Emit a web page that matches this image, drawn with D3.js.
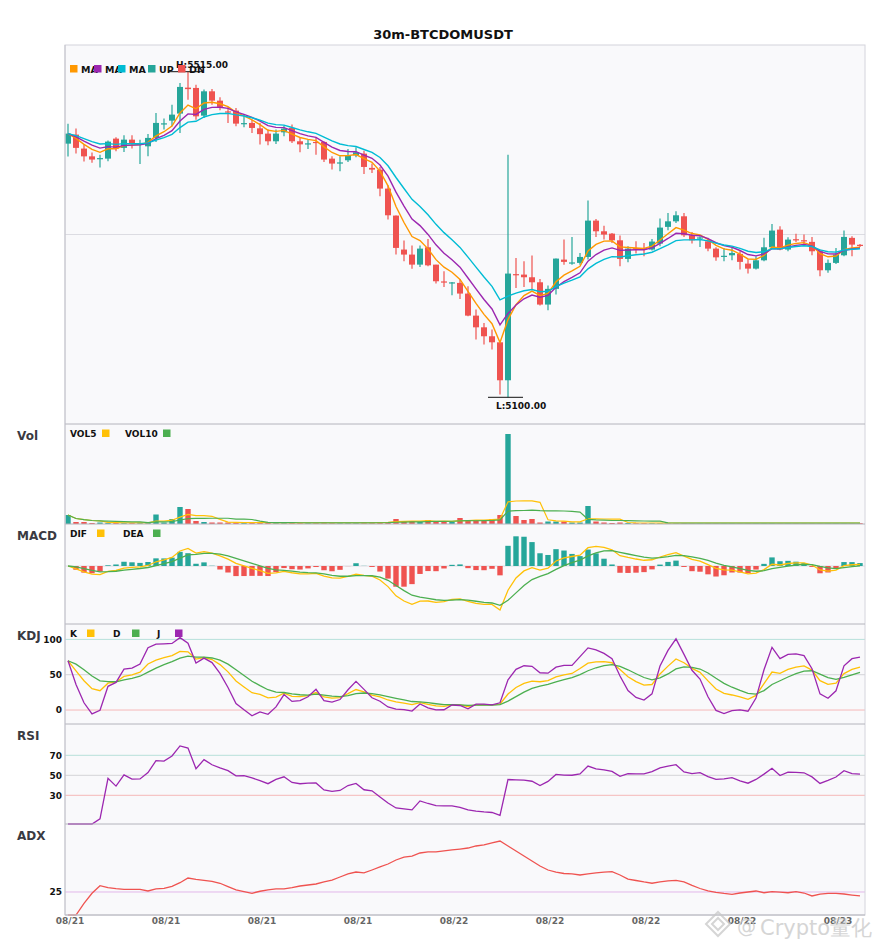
<!DOCTYPE html>
<html><head><meta charset="utf-8">
<script src="https://cdn.jsdelivr.net/npm/d3@7"></script>
<style>body{margin:0;background:#fff;} text{font-family:"DejaVu Sans",sans-serif;}</style>
</head><body><svg id="c" width="885" height="950"></svg>
<script>
const chartTitle = "30m-BTCDOMUSDT";
const openP = [5423.3,5434.8,5417.0,5407.1,5403.6,5404.2,5429.7,5417.9,5428.4,5422.1,
5419.9,5430.6,5447.9,5452.6,5461.6,5494.7,5494.3,5459.0,5490.0,5478.1,
5464.4,5465.4,5448.2,5449.7,5442.8,5436.1,5426.3,5437.7,5443.3,5426.3,
5422.4,5425.5,5425.5,5404.2,5398.1,5402.1,5408.4,5410.6,5392.4,5390.2,
5366.0,5331.6,5288.3,5281.9,5269.1,5291.2,5269.1,5247.7,5245.2,5245.8,
5232.2,5204.1,5189.2,5177.8,5170.1,5121.7,5257.0,5256.4,5253.0,5246.6,
5218.2,5238.2,5275.5,5270.7,5271.3,5278.9,5325.2,5311.6,5308.6,5300.1,
5276.4,5290.2,5289.9,5288.3,5295.9,5317.2,5324.3,5330.7,5306.5,5302.3,
5298.8,5289.5,5279.1,5281.0,5282.8,5270.4,5264.0,5274.6,5291.2,5313.7,
5288.3,5301.5,5300.2,5298.1,5286.1,5261.9,5271.3,5281.0,5303.2,5294.4];
const highP = [5448.8,5442.5,5422.1,5411.9,5409.3,5427.2,5431.4,5433.9,5433.9,5428.4,
5435.7,5462.5,5455.2,5473.0,5500.7,5515.0,5498.5,5492.2,5493.0,5482.3,
5469.6,5468.8,5461.2,5453.9,5449.7,5441.2,5441.2,5446.3,5447.6,5430.6,
5428.4,5430.6,5426.3,5407.1,5407.1,5416.6,5418.6,5414.4,5397.9,5393.6,
5370.2,5331.6,5299.7,5293.4,5293.4,5301.9,5269.1,5260.6,5247.1,5250.9,
5241.5,5211.8,5194.8,5186.3,5170.1,5409.3,5277.7,5273.3,5280.6,5250.9,
5242.4,5276.8,5301.0,5304.4,5284.0,5350.7,5327.4,5318.8,5309.5,5306.1,
5292.5,5298.8,5296.8,5301.9,5327.8,5335.0,5337.1,5335.0,5310.8,5305.2,
5303.2,5291.2,5290.4,5290.4,5286.1,5275.5,5279.7,5303.2,5321.0,5317.9,
5303.9,5308.3,5307.4,5304.4,5288.3,5275.5,5290.4,5312.5,5305.2,5295.5];
const lowP = [5406.8,5410.6,5400.4,5399.1,5392.8,5400.8,5413.5,5412.8,5417.0,5397.5,
5407.1,5425.5,5441.2,5445.4,5437.0,5479.4,5453.9,5456.1,5473.0,5465.8,
5449.7,5445.4,5444.1,5437.0,5422.1,5421.2,5423.0,5432.6,5424.2,5412.3,
5416.6,5409.3,5400.0,5390.2,5388.0,5400.0,5405.9,5384.7,5386.0,5356.2,
5326.5,5281.9,5273.3,5264.0,5266.2,5267.0,5244.9,5240.7,5230.0,5225.4,
5203.3,5173.6,5167.2,5160.8,5103.5,5100.0,5239.4,5240.7,5237.3,5216.9,
5210.9,5230.9,5269.1,5269.1,5269.1,5275.5,5304.4,5301.0,5296.8,5267.0,
5272.1,5283.2,5279.7,5287.0,5292.5,5312.9,5322.3,5304.4,5295.9,5291.7,
5286.1,5274.2,5273.3,5274.6,5262.8,5257.7,5262.8,5273.3,5290.4,5287.4,
5286.1,5298.1,5293.7,5281.0,5254.2,5258.6,5270.0,5279.7,5279.7,5291.7];
const closeP = [5436.1,5417.9,5407.1,5403.0,5404.9,5425.9,5417.0,5428.4,5423.0,5423.3,
5430.6,5449.7,5449.2,5460.3,5495.6,5492.8,5458.1,5490.0,5478.1,5470.1,
5463.1,5448.8,5449.5,5443.3,5435.4,5426.3,5436.1,5442.5,5426.3,5422.4,
5423.7,5424.2,5403.0,5397.9,5399.4,5408.4,5412.3,5393.6,5390.2,5366.0,
5332.0,5290.4,5281.9,5269.1,5289.5,5268.2,5247.9,5246.5,5246.5,5232.2,
5204.1,5189.2,5177.8,5170.1,5121.7,5257.7,5255.8,5253.0,5246.6,5218.2,
5238.2,5276.8,5272.6,5271.9,5278.9,5325.2,5311.6,5307.4,5300.1,5276.4,
5289.5,5288.9,5288.6,5298.5,5316.3,5324.3,5332.0,5306.5,5300.1,5303.8,
5289.5,5278.4,5280.4,5284.0,5272.6,5264.0,5274.6,5291.2,5312.5,5288.3,
5301.0,5300.5,5299.2,5286.1,5261.9,5271.3,5281.9,5304.4,5294.6,5293.1];
const volumes = [900,200,200,100,150,120,100,100,100,150,
150,950,150,500,1700,1500,300,200,150,150,
150,150,100,100,150,150,100,100,150,100,
100,100,150,100,100,100,100,150,150,200,
200,500,260,300,200,400,200,300,200,600,
400,400,300,500,900,9000,800,400,500,150,
250,250,250,150,150,1800,250,150,100,150,
100,80,80,80,80,80,100,100,80,80,
100,80,80,80,80,80,80,100,100,80,
80,80,80,80,80,80,80,80,80,80];
const adxValues = [0,0,12.7,23.6,31.8,29.7,28.6,27.9,27.9,27.9,
26.1,28.3,29,31.2,35.1,40.2,38.8,37.7,36.6,34.5,
30.8,27.2,25.3,23.6,25.8,27.2,28.3,28.3,29.7,31.5,
32.6,33.7,35.9,38,41.3,44.6,46.7,45.7,48.9,52.2,
55.4,59.8,63,64.1,67.4,68.5,68.5,69.6,70.7,71.7,
72.8,75,76.1,78.3,80.4,75,69.6,64.1,58.7,53.3,
48.9,46.7,45.1,44.6,43.5,44.6,45.7,46.7,47.1,43.5,
39.1,37.5,35.9,34.5,35.9,37,37.7,35.9,32.1,28.8,
26.1,24.5,23.4,22.5,23.9,25,26.1,24.2,25.3,24.8,
24.2,25.3,23.9,20.7,22.8,23.6,23.6,22.8,21.7,20.7];
const xTickIndex = [0,12,24,36,48,60,72,84,96];
const xTickLabels = ["08/21","08/21","08/21","08/21","08/22","08/22","08/22","08/22","08/23"];
const maPeriods = [5,8,13];
const macdPeriods = [5,13,5];
const maColors = ["#ff9800","#9c27b0","#00bcd4"];
const UP = "#26a69a", DN = "#ef5350";

const n = closeP.length;
const idx = d3.range(n);
const svg = d3.select("#c");
const L = 65, R = 865;

// indicators
function ema(arr, p){ const k=2/(p+1); let out=[]; arr.forEach((v,i)=>{ out.push(i===0?v:out[i-1]+(v-out[i-1])*k); }); return out; }
function sma(arr, p){ return arr.map((v,i)=>{ const s=Math.max(0,i-p+1); return d3.mean(arr.slice(s,i+1)); }); }
const maLines = maPeriods.map(p=>ema(closeP,p));
const vol5 = sma(volumes,5), vol10 = sma(volumes,10);
const eF = ema(closeP,macdPeriods[0]), eS = ema(closeP,macdPeriods[1]);
const dif = eF.map((v,i)=>v-eS[i]);
const dea = ema(dif, macdPeriods[2]);
const hist = dif.map((v,i)=>2*(v-dea[i]));
const K=[],D=[],J=[];
idx.forEach(i=>{ const s=Math.max(0,i-8); const hh=d3.max(highP.slice(s,i+1)), ll=d3.min(lowP.slice(s,i+1));
  const rsv = hh===ll?50:(closeP[i]-ll)/(hh-ll)*100;
  const k = i===0?rsv:(2*K[i-1]+rsv)/3; const d = i===0?k:(2*D[i-1]+k)/3;
  K.push(k); D.push(d); J.push(3*k-2*d); });
const rsi=[]; let ag=0, al=0;
idx.forEach(i=>{ if(i>0){ const ch=closeP[i]-closeP[i-1]; ag=(Math.max(ch,0)+13*ag)/14; al=(Math.max(-ch,0)+13*al)/14; }
  rsi.push(ag+al===0?0:100*ag/(ag+al)); });

// background
svg.append("rect").attr("x",L).attr("y",45).attr("width",R-L).attr("height",915-45).attr("fill","#f9f9fb");

const x = d3.scaleBand().domain(idx).range([64,864]);
const cx = i => x(i)+x.bandwidth()/2;

// main
const hi = d3.max(highP), lo = d3.min(lowP), pad=(hi-lo)*0.082;
const y = d3.scaleLinear().domain([lo-pad, hi+pad]).range([424,45]);
svg.append("line").attr("x1",L).attr("x2",R).attr("y1",y((lo+hi)/2)).attr("y2",y((lo+hi)/2)).attr("stroke","#dcdce2");
const cg = svg.append("g");
cg.selectAll("line.w").data(idx).join("line").attr("x1",cx).attr("x2",cx)
  .attr("y1",i=>y(highP[i])).attr("y2",i=>y(lowP[i])).attr("stroke",i=>closeP[i]>=openP[i]?UP:DN).attr("stroke-width",1.2);
cg.selectAll("rect").data(idx).join("rect").attr("x",i=>cx(i)-3).attr("width",6)
  .attr("y",i=>y(Math.max(openP[i],closeP[i])))
  .attr("height",i=>Math.max(1.2,Math.abs(y(openP[i])-y(closeP[i]))))
  .attr("fill",i=>closeP[i]>=openP[i]?UP:DN);
maLines.forEach((arr,k)=>{
  svg.append("path").datum(arr).attr("fill","none").attr("stroke",maColors[k]).attr("stroke-width",1.4)
   .attr("d",d3.line().x((d,i)=>cx(i)).y(d=>y(d)));
});
// H / L markers
const hiI = highP.indexOf(hi), loI = lowP.indexOf(lo);
svg.append("line").attr("x1",cx(hiI)-20).attr("x2",cx(hiI)+15).attr("y1",y(hi)).attr("y2",y(hi)).attr("stroke","#111");
svg.append("text").attr("x",cx(hiI)-12).attr("y",y(hi)-4).attr("font-size",9).attr("font-weight","bold").attr("fill","#111").text("H:"+hi.toFixed(2));
svg.append("line").attr("x1",cx(loI)-20).attr("x2",cx(loI)+15).attr("y1",y(lo)).attr("y2",y(lo)).attr("stroke","#111");
svg.append("text").attr("x",cx(loI)-12).attr("y",y(lo)+12).attr("font-size",9).attr("font-weight","bold").attr("fill","#111").text("L:"+lo.toFixed(2));
// main legend
const leg = [["MA",maColors[0],70],["MA",maColors[1],94],["MA",maColors[2],118],["UP",UP,148],["DN",DN,178]];
leg.forEach(([t,c,px])=>{
  svg.append("text").attr("x",px+11).attr("y",72.5).attr("font-size",9.5).attr("font-weight","bold").attr("fill","#111").text(t);
});
leg.forEach(([t,c,px])=>{ svg.append("rect").attr("x",px).attr("y",65).attr("width",7.5).attr("height",7.5).attr("fill",c); });

// volume
const yv = d3.scaleLinear().domain([0,d3.max(volumes)/0.9]).range([524,424]);
svg.append("g").selectAll("rect").data(idx).join("rect").attr("x",i=>cx(i)-2.7).attr("width",5.4)
  .attr("y",i=>yv(volumes[i])).attr("height",i=>524-yv(volumes[i])).attr("fill",i=>closeP[i]>=openP[i]?UP:DN);
[[vol5,"#ffc107"],[vol10,"#4caf50"]].forEach(([a,c])=>svg.append("path").datum(a).attr("fill","none").attr("stroke",c).attr("stroke-width",1.2)
  .attr("d",d3.line().x((d,i)=>cx(i)).y(d=>yv(d))));

// macd
const kk = 44/(-d3.min(dif));
const ym = d3.scaleLinear().domain([-58/kk, 42/kk]).range([624,524]);
svg.append("line").attr("x1",L).attr("x2",R).attr("y1",ym(0)).attr("y2",ym(0)).attr("stroke","#dcdce2");
svg.append("g").selectAll("rect").data(idx).join("rect").attr("x",i=>cx(i)-2.7).attr("width",5.4)
  .attr("y",i=>Math.min(ym(0),ym(hist[i]))).attr("height",i=>Math.abs(ym(hist[i])-ym(0)))
  .attr("fill",i=>hist[i]>=0?UP:DN);
[[dif,"#ffc107"],[dea,"#4caf50"]].forEach(([a,c])=>svg.append("path").datum(a).attr("fill","none").attr("stroke",c).attr("stroke-width",1.3)
  .attr("d",d3.line().x((d,i)=>cx(i)).y(d=>ym(d))));

// kdj
const yk = d3.scaleLinear().domain([-19.8,121.8]).range([724,624]);
[[100,"#b7e0da"],[50,"#d4d4d8"],[0,"#f6b8b8"]].forEach(([v,c])=>svg.append("line").attr("x1",L).attr("x2",R).attr("y1",yk(v)).attr("y2",yk(v)).attr("stroke",c));
[[K,"#ffc107"],[D,"#4caf50"],[J,"#9c27b0"]].forEach(([a,c])=>svg.append("path").datum(a).attr("fill","none").attr("stroke",c).attr("stroke-width",1.3)
  .attr("d",d3.line().x((d,i)=>cx(i)).y(d=>yk(d))));

// rsi
const yr = d3.scaleLinear().domain([1.3,101.3]).range([824,724]).clamp(true);
[[70,"#b7e0da"],[50,"#d4d4d8"],[30,"#f6b8b8"]].forEach(([v,c])=>svg.append("line").attr("x1",L).attr("x2",R).attr("y1",yr(v)).attr("y2",yr(v)).attr("stroke",c));
svg.append("path").datum(rsi).attr("fill","none").attr("stroke","#9c27b0").attr("stroke-width",1.3)
  .attr("d",d3.line().x((d,i)=>cx(i)).y(d=>yr(d)));

// adx
const ya = d3.scaleLinear().domain([0,98.9]).range([915,824]);
svg.append("line").attr("x1",L).attr("x2",R).attr("y1",ya(25)).attr("y2",ya(25)).attr("stroke","#e2b8ea");
svg.append("path").datum(adxValues).attr("fill","none").attr("stroke","#ef5350").attr("stroke-width",1.3)
  .attr("d",d3.line().x((d,i)=>cx(i)).y(d=>ya(d)));

// borders & separators
svg.append("rect").attr("x",L).attr("y",45).attr("width",R-L).attr("height",915-45).attr("fill","none").attr("stroke","#d4d4dc");
[424,524,624,724,824,915].forEach(v=>svg.append("line").attr("x1",L).attr("x2",R).attr("y1",v).attr("y2",v).attr("stroke","#b4b4bc"));
svg.append("line").attr("x1",L).attr("x2",L).attr("y1",45).attr("y2",915).attr("stroke","#c4c4cc");

// y axes
function yAxis(scale, vals){
  const g = svg.append("g").attr("transform",`translate(${L},0)`).call(d3.axisLeft(scale).tickValues(vals).tickSize(0).tickPadding(3));
  g.select(".domain").remove();
  g.selectAll("text").attr("font-family","DejaVu Sans").attr("font-size",9).attr("font-weight","bold").attr("fill","#111");
}
yAxis(yk,[0,50,100]); yAxis(yr,[30,50,70]); yAxis(ya,[25]);

// x axis
const xg = svg.append("g").attr("transform","translate(2,915)")
  .call(d3.axisBottom(x).tickValues(xTickIndex).tickFormat((d,i)=>xTickLabels[i]).tickSize(0).tickPadding(3));
xg.select(".domain").remove();
xg.selectAll("text").attr("font-family","DejaVu Sans").attr("font-size",9).attr("font-weight","bold").attr("fill","#666");

// panel names
[["Vol",440],["MACD",540],["KDJ",640],["RSI",740],["ADX",840]].forEach(([t,yy])=>
  svg.append("text").attr("x",17).attr("y",yy).attr("font-size",12).attr("font-weight","bold").attr("fill","#3a3a42").text(t));

// sub legends
function subLegend(items, yy){
  items.forEach(([t,c,tx,sx])=>{
    svg.append("text").attr("x",tx).attr("y",yy+7).attr("font-size",9).attr("font-weight","bold").attr("fill","#111").text(t);
    svg.append("rect").attr("x",sx).attr("y",yy).attr("width",7.5).attr("height",7.5).attr("fill",c);
  });
}
subLegend([["VOL5","#ffc107",70,102],["VOL10","#4caf50",125,163]],429.5);
subLegend([["DIF","#ffc107",70,97],["DEA","#4caf50",123,153]],529.5);
subLegend([["K","#ffc107",70,87],["D","#4caf50",113,132],["J","#9c27b0",157,175]],629.5);

// title
svg.append("text").attr("x",443).attr("y",39).attr("text-anchor","middle").attr("font-size",13).attr("font-weight","bold").attr("fill","#111").text(chartTitle);

// watermark
const wm = svg.append("g").attr("opacity",0.75);
wm.append("path").attr("d","M718,912 L730,924 L718,936 L706,924 Z M718,918 L724,924 L718,930 L712,924 Z").attr("fill","none").attr("stroke","#c8c8c8").attr("stroke-width",2);
wm.append("text").attr("x",737).attr("y",933).attr("font-size",19).attr("fill","#c8c8c8").text("@");
wm.append("text").attr("x",760).attr("y",935).attr("font-size",21).attr("fill","#c8c8c8").attr("font-family","Noto Sans CJK SC, DejaVu Sans").text("Crypto量化");
</script></body></html>
